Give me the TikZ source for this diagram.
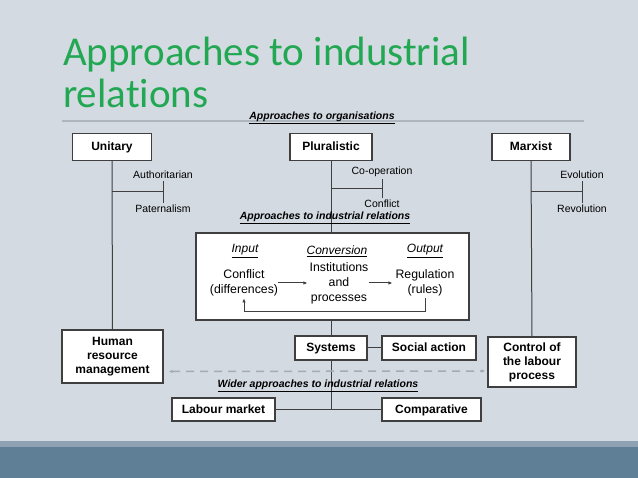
\documentclass[tikz,border=0pt]{standalone}
\usepackage{fontspec}
\setmainfont{Liberation Sans}
\newfontfamily\titlefont[Ligatures={NoCommon}]{Carlito}
\usetikzlibrary{arrows.meta}
\definecolor{slide}{HTML}{D3DAE1}
\definecolor{titlegreen}{HTML}{22A752}
\definecolor{band}{HTML}{5F7F96}
\definecolor{bandlight}{HTML}{8FA2B3}
\definecolor{rulegray}{HTML}{AEB5BC}
\definecolor{dashgray}{HTML}{A3ABB3}
\definecolor{ink}{HTML}{3F3F3F}
\begin{document}
\begin{tikzpicture}[x=1pt,y=-1pt,>={Latex[length=4pt,width=3.5pt]},box/.style={draw=ink, fill=white, line width=1.2pt, align=center, inner sep=0pt, font=\bfseries\fontsize{12}{14}\selectfont},onebox/.style={box, text height=9.5pt, text depth=2pt},hdr/.style={inner sep=0pt, font=\bfseries\itshape\fontsize{10.5}{12}\selectfont},lbl/.style={inner sep=2pt, font=\fontsize{10.5}{12}\selectfont},txt/.style={inner sep=0pt, align=center, font=\fontsize{12.3}{15}\selectfont},wire/.style={draw=ink, line width=1pt}]
\useasboundingbox (0,0) rectangle (638,478);
\fill[slide] (0,0) rectangle (638,478);\fill[bandlight] (0,441) rectangle (638,447);\fill[band] (0,447) rectangle (638,478);
\node[anchor=base west, inner sep=0pt, text=titlegreen, font=\titlefont\fontsize{41}{43}\selectfont] (title1) at (63,66) {Approaches to industrial};\node[anchor=base west, inner sep=0pt, text=titlegreen, font=\titlefont\fontsize{41}{43}\selectfont] (title2) at (63,108) {relations};
\draw[rulegray, line width=1.2pt] (62,121) -- (584,121);\node[hdr] (orgs) at (322,118) {\underline{Approaches to organisations}};
\node[onebox, minimum width=79, minimum height=27] (uni) at (112,147) {Unitary};\node[onebox, minimum width=82, minimum height=27] (plu) at (331,147) {Pluralistic};\node[onebox, minimum width=78, minimum height=27] (mar) at (531,147) {Marxist};
\node[lbl] (auth) at (163,175) {Authoritarian};\node[lbl] (pat) at (163,209) {Paternalism};\node[lbl] (coop) at (382,172) {Co-operation};\node[lbl] (confl) at (382,204) {Conflict};\node[lbl] (evo) at (582,175) {Evolution};\node[lbl] (revo) at (582,209) {Revolution};
\node[box, line width=1.4pt, minimum width=273, minimum height=87] (irbox) at (332.5,276.5) {};
\node[box, minimum width=101, minimum height=53] (hrm) at (112.5,356.5) {Human\\resource\\management};\node[box, minimum width=88, minimum height=50] (ctl) at (532,362) {Control of\\the labour\\process};
\node[onebox, minimum width=72, minimum height=24] (sys) at (331,348) {Systems};\node[onebox, minimum width=94, minimum height=24] (soc) at (429,348) {Social action};
\node[onebox, minimum width=103, minimum height=23] (lab) at (223.5,409.5) {Labour market};\node[onebox, minimum width=99, minimum height=23] (cmp) at (431.5,409.5) {Comparative};
\draw[wire] (uni.south) -- (hrm.north);\draw[wire] (mar.south) -- (ctl.north);\draw[wire] (plu.south) -- (irbox.north -| plu.south);\draw[wire] (irbox.south -| plu.south) -- (sys.north);\draw[wire] (sys.south) -- (sys.south |- lab.east);\draw[wire] (lab.east) -- (cmp.west);\draw[wire] (sys.east) -- (soc.west);
\path (auth.south) -- (pat.north) coordinate[midway] (um);\draw[wire] (auth.south) -- (pat.north);\draw[wire] (um -| uni.south) -- (um);
\path (coop.south) -- (confl.north) coordinate[midway] (pm);\draw[wire] (coop.south) -- (confl.north);\draw[wire] (pm -| plu.south) -- (pm);
\path (evo.south) -- (revo.north) coordinate[midway] (mm);\draw[wire] (evo.south) -- (revo.north);\draw[wire] (mm -| mar.south) -- (mm);
\node[hdr] (irhdr) at (325,218) {\underline{Approaches to industrial relations}};
\node[txt, font=\itshape\fontsize{12}{14}\selectfont] (inp) at (245,251) {\underline{Input}};\node[txt, font=\itshape\fontsize{12}{14}\selectfont] (conv) at (337,251) {\underline{Conversion}};\node[txt, font=\itshape\fontsize{12}{14}\selectfont] (outp) at (425,251) {\underline{Output}};
\node[txt] (cfl) at (244,283) {Conflict\\(differences)};\node[txt] (inst) at (339,283) {Institutions\\and\\processes};\node[txt] (reg) at (425,283) {Regulation\\(rules)};
\draw[wire, ->] (cfl.east) -- ([xshift=-2pt]inst.west);\draw[wire, ->] (inst.east) -- ([xshift=-3pt]reg.west);\draw[wire, ->] ([yshift=-2pt]reg.south) -- ++(0,13) -| ([yshift=-2pt]cfl.south);
\path (hrm.east) ++(5,15) coordinate (dl);\path (ctl.west) ++(-2,9) coordinate (dr);\draw[dashgray, line width=1.5pt, dash pattern=on 8pt off 6pt, <->] (dl) -- (dr);
\node[hdr] (wider) at (318,386) {\underline{Wider approaches to industrial relations}};
\end{tikzpicture}
\end{document}
